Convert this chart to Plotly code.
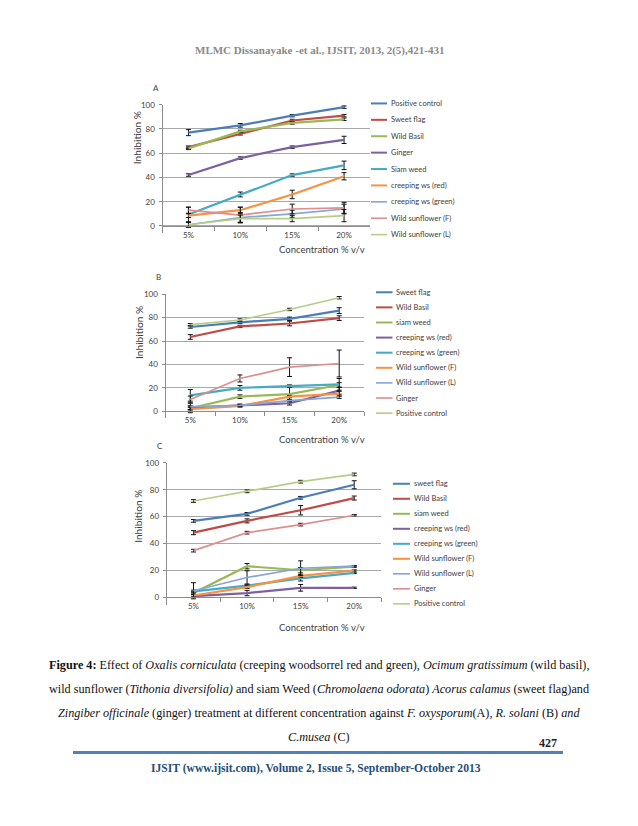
import plotly.graph_objects as go

W, H = 638, 826
OFF = 8  # browser default body margin
FW, FH = W - 2 * OFF, H - 2 * OFF
conc = ["5%", "10%", "15%", "20%"]

# ---------------- Panel A (F. oxysporum) ----------------
A_names = ["Positive control", "Sweet flag", "Wild Basil", "Ginger", "Siam weed",
           "creeping ws (red)", "creeping ws (green)", "Wild sunflower (F)", "Wild sunflower (L)"]
A_positive_control = [77, 83, 91, 98]
A_sweet_flag = [65, 76, 87, 91]
A_wild_basil = [64, 78, 85, 88]
A_ginger = [42, 56, 65, 71]
A_siam_weed = [9.5, 26, 42, 50]
A_creeping_red = [8.5, 13, 26, 41]
A_creeping_green = [1, 7, 10, 14]
A_sunflower_F = [13, 9, 14, 15]
A_sunflower_L = [1, 6, 6, 8.5]
A_err_positive_control = [2.5, 1.5, 1, 1]
A_err_sweet_flag = [1, 1, 1, 1]
A_err_wild_basil = [1, 1, 1, 1]
A_err_ginger = [1, 1, 1, 3]
A_err_siam_weed = [6, 2, 1, 3.5]
A_err_creeping_red = [1.5, 2.5, 3.5, 3]
A_err_creeping_green = [2, 4, 3, 4]
A_err_sunflower_F = [2.5, 6.5, 4, 4.5]
A_err_sunflower_L = [2, 3, 2.5, 5]

# ---------------- Panel B (R. solani) ----------------
B_names = ["Sweet flag", "Wild Basil", "siam weed", "creeping ws (red)", "creeping ws (green)",
           "Wild sunflower (F)", "Wild sunflower (L)", "Ginger", "Positive control"]
B_sweet_flag = [72, 76, 79, 86]
B_wild_basil = [63.5, 72.5, 75, 79.6]
B_siam_weed = [2.5, 12.5, 14.7, 22.4]
B_creeping_red = [2.5, 5, 6.8, 17.6]
B_creeping_green = [13.6, 20, 21.5, 23]
B_sunflower_F = [1.7, 4.5, 12.5, 15]
B_sunflower_L = [4, 5, 9, 12]
B_ginger = [10, 28, 37.7, 40.8]
B_positive_control = [74, 78, 87, 97]
B_err_sweet_flag = [1, 1, 1.5, 2.5]
B_err_wild_basil = [2, 1, 2, 2]
B_err_siam_weed = [1, 1.5, 6, 2]
B_err_creeping_red = [1, 1, 1.5, 3]
B_err_creeping_green = [5, 2, 1, 5]
B_err_sunflower_F = [3, 1, 1, 2]
B_err_sunflower_L = [3, 1, 1, 1]
B_err_ginger = [3, 3, 8, 11.5]
B_err_positive_control = [1, 1, 1, 1]

# ---------------- Panel C (C. musea) ----------------
C_names = ["sweet flag", "Wild Basil", "siam weed", "creeping ws (red)", "creeping ws (green)",
           "Wild sunflower (F)", "Wild sunflower (L)", "Ginger", "Positive control"]
C_sweet_flag = [56.8, 62, 74, 83.7]
C_wild_basil = [48, 56.8, 64.7, 73.8]
C_siam_weed = [3, 23, 20, 22.7]
C_creeping_red = [0.7, 3, 6.9, 6.9]
C_creeping_green = [4.2, 8.6, 14, 18]
C_sunflower_F = [1.2, 7.4, 15.8, 19.8]
C_sunflower_L = [4.7, 14.6, 21.5, 23]
C_ginger = [34.6, 48, 54, 61]
C_positive_control = [71.6, 78.8, 86, 91.4]
C_err_sweet_flag = [1, 1, 1, 3]
C_err_wild_basil = [1.5, 1.5, 3.5, 1.5]
C_err_siam_weed = [1, 2, 2, 0.5]
C_err_creeping_red = [1, 2, 2.5, 0.5]
C_err_creeping_green = [1, 1, 2, 0.5]
C_err_sunflower_F = [1, 1, 1, 0.5]
C_err_sunflower_L = [6, 5, 5.5, 0.5]
C_err_ginger = [1, 1, 1, 0.5]
C_err_positive_control = [1, 1, 1, 1]

BLUE, RED, GREEN, PURPLE = "#4A7EBB", "#BE4B48", "#98B954", "#7D60A0"
AQUA, ORANGE, LBLUE, PINK, LGREEN = "#46AAC5", "#F69240", "#86A4D6", "#DC8F8D", "#B5CE85"
col9 = [BLUE, RED, GREEN, PURPLE, AQUA, ORANGE, LBLUE, PINK, LGREEN]
widths9 = [2.2, 2.2, 2.2, 2.2, 2.2, 2.2, 1.7, 1.7, 1.7]

A_series = [A_positive_control, A_sweet_flag, A_wild_basil, A_ginger, A_siam_weed,
            A_creeping_red, A_creeping_green, A_sunflower_F, A_sunflower_L]
A_errs = [A_err_positive_control, A_err_sweet_flag, A_err_wild_basil, A_err_ginger, A_err_siam_weed,
          A_err_creeping_red, A_err_creeping_green, A_err_sunflower_F, A_err_sunflower_L]
B_series = [B_sweet_flag, B_wild_basil, B_siam_weed, B_creeping_red, B_creeping_green,
            B_sunflower_F, B_sunflower_L, B_ginger, B_positive_control]
B_errs = [B_err_sweet_flag, B_err_wild_basil, B_err_siam_weed, B_err_creeping_red, B_err_creeping_green,
          B_err_sunflower_F, B_err_sunflower_L, B_err_ginger, B_err_positive_control]
C_series = [C_sweet_flag, C_wild_basil, C_siam_weed, C_creeping_red, C_creeping_green,
            C_sunflower_F, C_sunflower_L, C_ginger, C_positive_control]
C_errs = [C_err_sweet_flag, C_err_wild_basil, C_err_siam_weed, C_err_creeping_red, C_err_creeping_green,
          C_err_sunflower_F, C_err_sunflower_L, C_err_ginger, C_err_positive_control]

# layout geometry in page pixels
panels = [
    dict(key="", label="A", names=A_names, series=A_series, errs=A_errs,
         left=162.5, right=370, y0=222.3, y100=100.3, leg_line=(371, 387), leg_text=389,
         leg_y=99, leg_dy=16.5, title_y=246, ytitle_x=137, ytitle_y=134),
    dict(key="2", label="B", names=B_names, series=B_series, errs=B_errs,
         left=165.5, right=364, y0=408.7, y100=291, leg_line=(376, 392.5), leg_text=394.5,
         leg_y=289, leg_dy=15.2, title_y=437, ytitle_x=139, ytitle_y=330),
    dict(key="3", label="C", names=C_names, series=C_series, errs=C_errs,
         left=166.7, right=381, y0=595.7, y100=460.7, leg_line=(393, 410), leg_text=412,
         leg_y=481.7, leg_dy=15.1, title_y=626, ytitle_x=138, ytitle_y=515),
]

def px(x):
    return (x - OFF) / FW

def py(y):
    return 1 - (y - OFF) / FH

FONT = "Lato, 'Open Sans', sans-serif"
SERIF = "'Liberation Serif', 'DejaVu Serif', serif"
fig = go.Figure()
annotations = []
shapes = []
layout_axes = {}
YMIN = -6

for p in panels:
    k = p["key"]
    cols = col9
    for i, (nm, vals, err) in enumerate(zip(p["names"], p["series"], p["errs"])):
        fig.add_trace(go.Scatter(
            x=conc, y=vals, name=nm, mode="lines",
            line=dict(color=cols[i], width=widths9[i]),
            error_y=dict(type="data", array=err, visible=True, color="#111111", thickness=1, width=2.5),
            xaxis="x" + k, yaxis="y" + k, showlegend=False,
        ))
    ppu = (p["y0"] - p["y100"]) / 100.0
    bottom = p["y0"] - YMIN * ppu
    layout_axes["xaxis" + k] = dict(
        domain=[px(p["left"]), px(p["right"])], type="category", range=[-0.5, 3.5],
        anchor="free", position=py(p["y0"]), showline=True, linecolor="#8C8C8C", linewidth=1,
        ticks="outside", tickson="boundaries", ticklen=4, tickcolor="#8C8C8C",
        showgrid=False, zeroline=False, tickfont=dict(family=FONT, size=8, color="#404040"),
        ticklabelstandoff=1,
    )
    layout_axes["yaxis" + k] = dict(
        domain=[py(bottom), py(p["y100"])], range=[YMIN, 100], anchor="x" + k,
        tickvals=[0, 20, 40, 60, 80, 100], showline=True, linecolor="#8C8C8C", linewidth=1,
        ticks="outside", ticklen=3, tickcolor="#8C8C8C",
        showgrid=True, gridcolor="#A8A8A8", gridwidth=1, zeroline=False,
        tickfont=dict(family=FONT, size=8, color="#404040"), ticklabelstandoff=2,
    )
    # panel letter
    annotations.append(dict(x=px(p["left"] - 12), y=py(p["y100"] - 17), xref="paper", yref="paper",
                            text=p["label"], showarrow=False, xanchor="left", yanchor="middle",
                            font=dict(family=FONT, size=8, color="#404040")))
    # axis titles
    annotations.append(dict(x=px(p["ytitle_x"]), y=py(p["ytitle_y"]), xref="paper", yref="paper",
                            text="Inhibition %", textangle=-90, showarrow=False,
                            xanchor="center", yanchor="middle",
                            font=dict(family=FONT, size=10.2, color="#404040")))
    annotations.append(dict(x=px(322), y=py(p["title_y"]), xref="paper", yref="paper",
                            text="Concentration % v/v", showarrow=False,
                            xanchor="center", yanchor="middle",
                            font=dict(family=FONT, size=9.5, color="#404040")))
    # legend (drawn manually for compact spacing)
    for i, nm in enumerate(p["names"]):
        yy = p["leg_y"] + i * p["leg_dy"]
        shapes.append(dict(type="line", xref="paper", yref="paper",
                           x0=px(p["leg_line"][0]), x1=px(p["leg_line"][1]), y0=py(yy), y1=py(yy),
                           line=dict(color=cols[i], width=2 if i < 6 else 1.6)))
        annotations.append(dict(x=px(p["leg_text"]), y=py(yy), xref="paper", yref="paper",
                                text=nm, showarrow=False, xanchor="left", yanchor="middle",
                                font=dict(family=FONT, size=7.5, color="#404040")))

# page header
annotations.append(dict(x=px(319), y=py(46), xref="paper", yref="paper", showarrow=False,
                        text="<b>MLMC Dissanayake -et al., IJSIT, 2013, 2(5),421-431</b>",
                        xanchor="center", yanchor="middle",
                        font=dict(family=SERIF, size=11, color="#8A8A8A")))
# caption
cap_lines = [
    "<b>Figure 4:</b> Effect of <i>Oxalis corniculata</i> (creeping woodsorrel red and green), <i>Ocimum gratissimum</i> (wild basil),",
    "wild sunflower (<i>Tithonia diversifolia)</i> and siam Weed (<i>Chromolaena odorata</i>) <i>Acorus calamus</i> (sweet flag)and",
    "<i>Zingiber officinale</i> (ginger) treatment at different concentration against <i>F. oxysporum</i>(A), <i>R. solani</i> (B) <i>and</i>",
    "<i>C.musea</i> (C)",
]
for i, t in enumerate(cap_lines):
    annotations.append(dict(x=px(319), y=py(664 + i * 24.3), xref="paper", yref="paper", showarrow=False,
                            text=t, xanchor="center", yanchor="middle",
                            font=dict(family=SERIF, size=12.2, color="#111111")))
# footer
shapes.append(dict(type="line", xref="paper", yref="paper", x0=px(73), x1=px(563), y0=py(752), y1=py(752),
                   line=dict(color="#4F81BD", width=3)))
annotations.append(dict(x=px(548), y=py(743), xref="paper", yref="paper", showarrow=False,
                        text="<b>427</b>", xanchor="center", yanchor="middle",
                        font=dict(family=SERIF, size=12, color="#222222")))
annotations.append(dict(x=px(316), y=py(768), xref="paper", yref="paper", showarrow=False,
                        text="<b>IJSIT (www.ijsit.com), Volume 2, Issue 5, September-October 2013</b>",
                        xanchor="center", yanchor="middle",
                        font=dict(family=SERIF, size=11.6, color="#1F4E79")))

fig.update_layout(
    width=FW, height=FH, margin=dict(l=0, r=0, t=0, b=0),
    paper_bgcolor="white", plot_bgcolor="white",
    annotations=annotations, shapes=shapes, showlegend=False,
    **layout_axes,
)
fig.write_html("out.html")
